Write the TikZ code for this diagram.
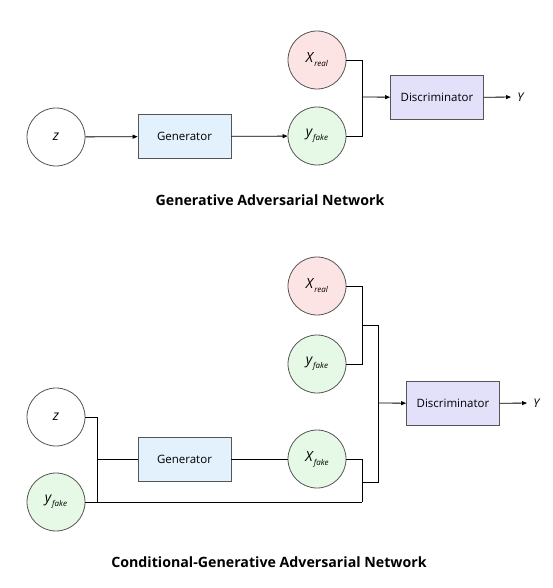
\documentclass[tikz,border=0pt]{standalone}
\usepackage{fontspec}
\setmainfont{Open Sans}
\usepackage{tikz}
\usetikzlibrary{arrows.meta}
\definecolor{realpink}{RGB}{252, 228, 228}
\definecolor{fakegreen}{RGB}{230, 248, 230}
\definecolor{genblue}{RGB}{227, 241, 252}
\definecolor{disclav}{RGB}{227, 224, 250}
\definecolor{edge}{RGB}{85, 85, 85}
\newcommand{\varlabel}[2]{{\fontsize{14}{14}\selectfont\textit{#1}}\raisebox{-4pt}{\fontsize{8}{8}\selectfont\textit{#2}}}

\begin{document}
\begin{tikzpicture}[x=1pt, y=-1pt, line width=0.8pt,
    var/.style={circle, draw=edge, minimum size=58pt, inner sep=0pt},
    net/.style={rectangle, draw=edge, minimum width=93pt, minimum height=44pt, font=\fontsize{11.5}{11.5}\selectfont},
    tip/.style={-{Triangle[length=5pt, width=4pt]}},
    title/.style={font=\fontsize{14.2}{14.2}\selectfont\bfseries}]
  \useasboundingbox (0, 0) rectangle (553, 588);

  % Generative Adversarial Network
  \node[var] (z) at (56, 137) {\fontsize{14}{14}\selectfont\textit{z}};
  \node[net, fill=genblue] (gen) at (184.5, 136.5) {Generator};
  \node[var, fill=fakegreen] (yfake) at (317, 136) {\varlabel{y}{fake}};
  \node[var, fill=realpink] (xreal) at (317, 60) {\varlabel{X}{real}};
  \node[net, fill=disclav] (disc) at (437, 97.5) {Discriminator};
  \node[inner sep=6pt] (Y) at (521, 97) {\fontsize{12}{12}\selectfont\textit{Y}};
  \coordinate (j1) at (362, 97);

  \draw[tip] (z) -- (gen);
  \draw[tip] (gen) -- (yfake);
  \draw (xreal) -| (j1);
  \draw (yfake) -| (j1);
  \draw[tip] (j1) -- (disc);
  \draw[tip] (disc) -- (Y);

  \node[title] (gantitle) at (270, 200) {Generative Adversarial Network};

  % Conditional-Generative Adversarial Network
  \node[var] (z2) at (56, 417) {\fontsize{14}{14}\selectfont\textit{z}};
  \node[var, fill=fakegreen] (ycond) at (56, 502) {\varlabel{y}{fake}};
  \node[net, fill=genblue] (gen2) at (184.5, 459) {Generator};
  \node[var, fill=fakegreen] (xfake) at (317, 459) {\varlabel{X}{fake}};
  \node[var, fill=realpink] (xreal2) at (317, 286) {\varlabel{X}{real}};
  \node[var, fill=fakegreen] (yfake2) at (317, 364) {\varlabel{y}{fake}};
  \node[net, fill=disclav] (disc2) at (453, 403.5) {Discriminator};
  \node[inner sep=6pt] (Y2) at (537, 403) {\fontsize{12}{12}\selectfont\textit{Y}};
  \coordinate (k1) at (97, 459);
  \coordinate (k2) at (97, 502);
  \coordinate (j2) at (362, 325);
  \coordinate (j3) at (378, 403);
  \coordinate (j4) at (378, 482);
  \coordinate (j5) at (362, 482);
  \coordinate (j6) at (362, 502);

  \draw (z2) -| (k2);
  \draw (k1) -- (gen2);
  \draw (gen2) -- (xfake);
  \draw (ycond) -- (j6);
  \draw (xfake) -| (j6);
  \draw (xreal2) -| (j2);
  \draw (yfake2) -| (j2);
  \draw (j2) -| (j4) -- (j5);
  \draw[tip] (j3) -- (disc2);
  \draw[tip] (disc2) -- (Y2);

  \node[title] (cgantitle) at (269, 562) {Conditional-Generative Adversarial Network};
\end{tikzpicture}
\end{document}
